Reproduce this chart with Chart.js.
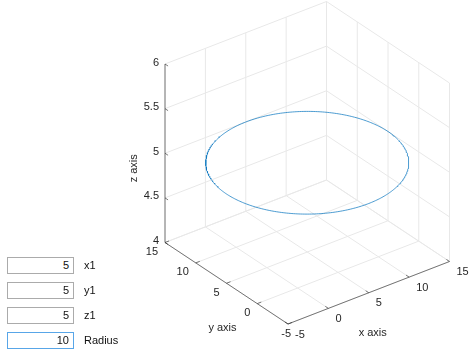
<!DOCTYPE html>
<html>
<head>
<meta charset="utf-8">
<script src="https://cdn.jsdelivr.net/npm/chart.js@4/dist/chart.umd.min.js"></script>
<style>
  html, body { margin:0; padding:0; background:#fff; width:474px; height:355px; overflow:hidden; }
  #wrap { position:absolute; left:0; top:0; width:474px; height:355px; }
  .ctl { position:absolute; left:7px; width:65px; height:15px; border:1px solid #ababab; background:#fff;
         font: 11px "Liberation Sans", Arial, sans-serif; color:#111; text-align:right; line-height:15px;
         box-sizing:content-box; padding-right:0; }
  .ctl span { padding-right:4px; }
  .ctl.active { border-color:#58a6e8; }
  .lbl { position:absolute; left:84px; font: 11px "Liberation Sans", Arial, sans-serif; color:#111; line-height:17px; }
</style>
</head>
<body>
<div id="wrap"><canvas id="c" width="474" height="355"></canvas></div>
<div id="ui"></div>
<script>
// ---- data ----
const xTicks = [-5, 0, 5, 10, 15];
const yTicks = [-5, 0, 5, 10, 15];
const zTicks = [4, 4.5, 5, 5.5, 6];
const zTickLabels = ['4', '4.5', '5', '5.5', '6'];
const circleCenter = [5, 5, 5];
const circleRadius = [10];
const controlLabels = ['x1', 'y1', 'z1', 'Radius'];
const controlValues = [5, 5, 5, 10];
const axisTitles = ['x axis', 'y axis', 'z axis'];

// ---- 3D view projection (az -37.5, el 30 style box) ----
const xMin = xTicks[0], xMax = xTicks[xTicks.length - 1];
const yMin = yTicks[0], yMax = yTicks[yTicks.length - 1];
const zMin = zTicks[0], zMax = zTicks[zTicks.length - 1];
const O = [288, 324], VX = [161.5, -62.5], VY = [-123, -81.5], VZ = [0, -178.5];
function proj(x, y, z) {
  const u = (x - xMin) / (xMax - xMin), v = (y - yMin) / (yMax - yMin), w = (z - zMin) / (zMax - zMin);
  return { x: O[0] + u * VX[0] + v * VY[0] + w * VZ[0], y: O[1] + u * VX[1] + v * VY[1] + w * VZ[1] };
}
function seg(a, b) { return [proj(a[0], a[1], a[2]), proj(b[0], b[1], b[2])]; }

const datasets = [];
const gridStyle = { borderColor: '#e8e8e8', borderWidth: 1, showLine: true, pointRadius: 0, order: 3, fill: false };
const axisStyle = { borderColor: 'rgba(38,38,38,0.6)', borderWidth: 1, showLine: true, pointRadius: 0, order: 2, fill: false };
// floor grid (z = zMin)
xTicks.forEach(x => datasets.push(Object.assign({ data: seg([x, yMin, zMin], [x, yMax, zMin]) }, gridStyle)));
yTicks.forEach(y => datasets.push(Object.assign({ data: seg([xMin, y, zMin], [xMax, y, zMin]) }, gridStyle)));
// back wall y = yMax
xTicks.forEach(x => datasets.push(Object.assign({ data: seg([x, yMax, zMin], [x, yMax, zMax]) }, gridStyle)));
zTicks.forEach(z => datasets.push(Object.assign({ data: seg([xMin, yMax, z], [xMax, yMax, z]) }, gridStyle)));
// back wall x = xMax
yTicks.forEach(y => datasets.push(Object.assign({ data: seg([xMax, y, zMin], [xMax, y, zMax]) }, gridStyle)));
zTicks.forEach(z => datasets.push(Object.assign({ data: seg([xMax, yMin, z], [xMax, yMax, z]) }, gridStyle)));
// axis lines
datasets.push(Object.assign({ data: seg([xMin, yMin, zMin], [xMax, yMin, zMin]) }, axisStyle));
datasets.push(Object.assign({ data: seg([xMin, yMin, zMin], [xMin, yMax, zMin]) }, axisStyle));
datasets.push(Object.assign({ data: seg([xMin, yMax, zMin], [xMin, yMax, zMax]) }, axisStyle));
// tick marks (inward)
const tk = 0.025;
xTicks.forEach(x => datasets.push(Object.assign({ data: seg([x, yMin, zMin], [x, yMin + tk * (yMax - yMin), zMin]) }, axisStyle)));
yTicks.forEach(y => datasets.push(Object.assign({ data: seg([xMin, y, zMin], [xMin + tk * (xMax - xMin), y, zMin]) }, axisStyle)));
zTicks.forEach(z => datasets.push(Object.assign({ data: seg([xMin, yMax, z], [xMin, yMax - tk * (yMax - yMin), z]) }, axisStyle)));
// circle: center + radius, drawn in the plane z = center z
const circ = [];
for (let i = 0; i <= 360; i++) {
  const t = i * Math.PI / 180;
  circ.push(proj(circleCenter[0] + circleRadius[0] * Math.cos(t), circleCenter[1] + circleRadius[0] * Math.sin(t), circleCenter[2]));
}
datasets.push({ data: circ, borderColor: 'rgba(0,114,189,0.7)', borderWidth: 1, showLine: true, pointRadius: 0, order: 1, fill: false, tension: 0 });

const labelPlugin = {
  id: 'labels3d',
  afterDraw(chart) {
    const ctx = chart.ctx, sx = chart.scales.x, sy = chart.scales.y;
    const P = (x, y, z) => { const p = proj(x, y, z); return [sx.getPixelForValue(p.x), sy.getPixelForValue(p.y)]; };
    ctx.save();
    ctx.fillStyle = '#262626';
    ctx.font = '11px "Liberation Sans", Arial, sans-serif';
    ctx.textBaseline = 'middle';
    // x tick labels
    ctx.textAlign = 'left';
    xTicks.forEach(x => { const p = P(x, yMin, zMin); ctx.fillText(String(x), p[0] + 7, p[1] + 10.5); });
    // y tick labels
    ctx.textAlign = 'right';
    yTicks.forEach(y => { const p = P(xMin, y, zMin); const nudge = (y === yMin) ? 10 : 0; ctx.fillText(String(y), p[0] - 7 + nudge, p[1] + 9.5); });
    // z tick labels
    zTicks.forEach((z, i) => { const p = P(xMin, yMax, z); ctx.fillText(zTickLabels[i], p[0] - 6, p[1] - 1.5); });
    // axis titles
    ctx.textAlign = 'center';
    let p = P((xMin + xMax) / 2, yMin, zMin); ctx.fillText(axisTitles[0], p[0] + 4, p[1] + 40.5);
    p = P(xMin, (yMin + yMax) / 2, zMin); ctx.fillText(axisTitles[1], p[0] - 4, p[1] + 45);
    p = P(xMin, yMax, (zMin + zMax) / 2);
    ctx.translate(p[0] - 31, p[1] + 15); ctx.rotate(-Math.PI / 2); ctx.fillText(axisTitles[2], 0, 0);
    ctx.restore();
  }
};

new Chart(document.getElementById('c'), {
  type: 'scatter',
  data: { datasets },
  options: {
    responsive: false, animation: false, devicePixelRatio: 1,
    layout: { padding: 0 },
    plugins: { legend: { display: false }, tooltip: { enabled: false } },
    scales: {
      x: { type: 'linear', min: 0, max: 474, display: false },
      y: { type: 'linear', min: 0, max: 355, reverse: true, display: false }
    }
  },
  plugins: [labelPlugin]
});

// UI controls
const ui = document.getElementById('ui');
controlLabels.forEach((lab, i) => {
  const top = 257 + i * 25;
  const box = document.createElement('div');
  box.className = 'ctl' + (i === 3 ? ' active' : '');
  box.style.top = top + 'px';
  box.innerHTML = '<span>' + controlValues[i] + '</span>';
  ui.appendChild(box);
  const l = document.createElement('div');
  l.className = 'lbl';
  l.style.top = top + 'px';
  l.textContent = lab;
  ui.appendChild(l);
});
</script>
</body>
</html>
